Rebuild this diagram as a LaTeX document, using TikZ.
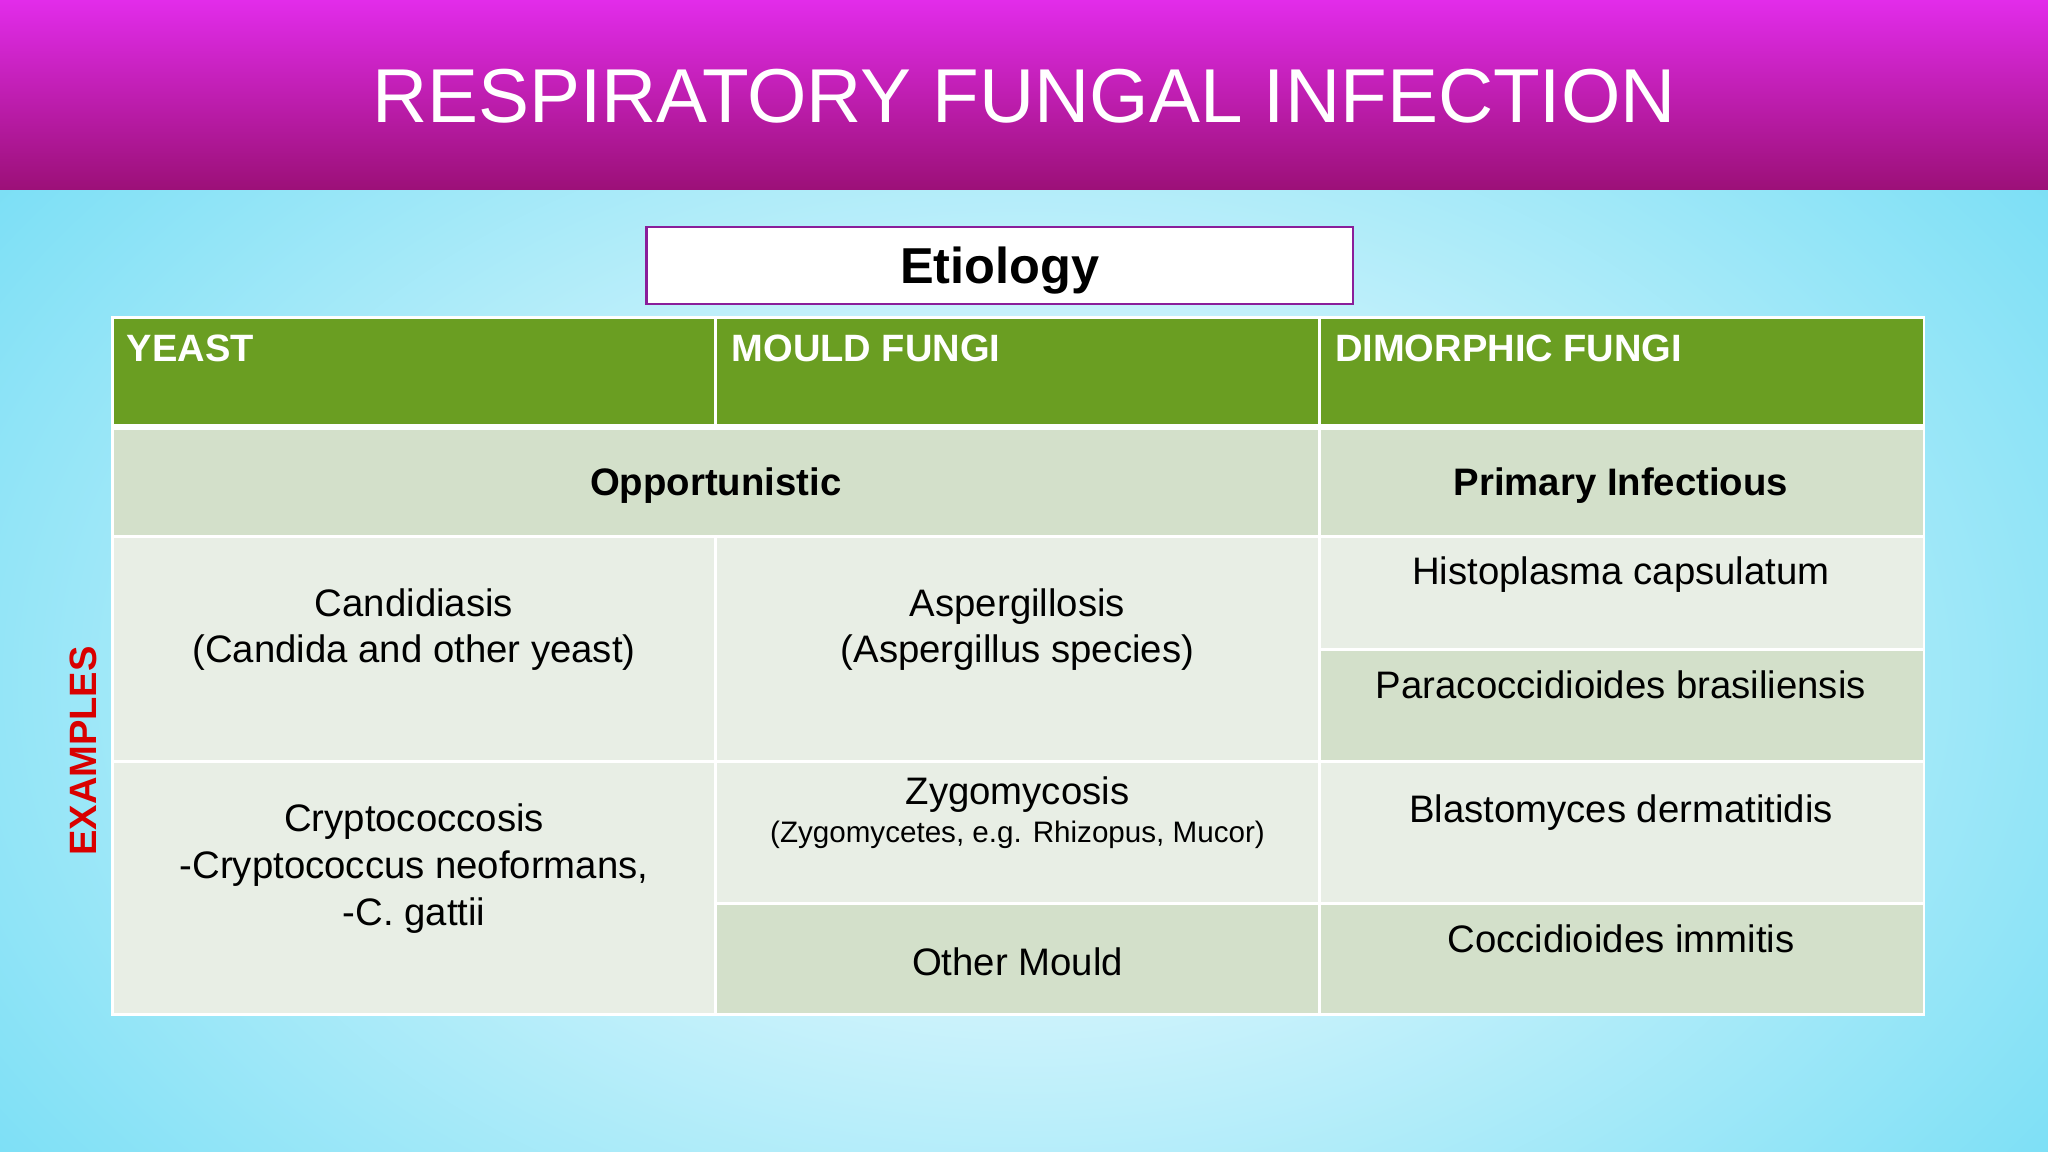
\documentclass[tikz,border=0pt]{standalone}
\usepackage{fontspec}
\setmainfont{Liberation Sans}
\definecolor{hdr}{HTML}{6A9E22}
\definecolor{mid}{HTML}{D3E0CA}
\definecolor{lite}{HTML}{E8EEE5}
\definecolor{bgout}{HTML}{4ED4F2}
\definecolor{ttop}{HTML}{E22CEA}
\definecolor{tbot}{HTML}{9C1078}
\definecolor{ebox}{HTML}{8A1E9A}
\tikzset{cell/.style={draw=white,line width=1.2pt},
 hd/.style={text=white,font=\bfseries\fontsize{16.6}{19}\selectfont,anchor=north west},
 bd/.style={align=center,font=\fontsize{16.7}{20}\selectfont}}
\begin{document}
\begin{tikzpicture}[x=0.02cm,y=-0.02cm]
\useasboundingbox (0,0) rectangle (1568,882);
\fill[bgout] (0,0) rectangle (1568,882);
\begin{scope}
\clip (0,0) rectangle (1568,882);
\shade[inner color=white,outer color=bgout] (784,520) ellipse [x radius=1300, y radius=880];
\end{scope}
\shade[top color=ttop,bottom color=tbot] (0,0) rectangle (1568,145);
\node[text=white,font=\fontsize{33.3}{40}\selectfont] (title) at (784,74) {RESPIRATORY FUNGAL INFECTION};
\node[draw=ebox,line width=1pt,fill=white,minimum width=541*0.02cm,minimum height=59*0.02cm] (eti) at (765.5,203.5) {};
\node[font=\bfseries\fontsize{22}{26}\selectfont] (etit) at (765.5,207) {Etiology};
% header
\fill[hdr] (86,243) rectangle (1473,326);
\draw[cell] (86,243) rectangle (548,326);
\draw[cell] (548,243) rectangle (1010,326);
\draw[cell] (1010,243) rectangle (1473,326);
\node[hd] (h1) at (91,250) {YEAST};
\node[hd] (h2) at (554,250) {MOULD FUNGI};
\node[hd] (h3) at (1016,250) {DIMORPHIC FUNGI};
% row 2
\draw[cell,fill=mid] (86,328) rectangle (1010,411);
\draw[cell,fill=mid] (1010,328) rectangle (1473,411);
\node[font=\bfseries\fontsize{16.7}{20}\selectfont] (op) at (548,372) {Opportunistic};
\node[font=\bfseries\fontsize{16.7}{20}\selectfont] (pi) at (1241,372) {Primary Infectious};
% body
\draw[cell,fill=lite] (86,411) rectangle (548,583);
\draw[cell,fill=lite] (548,411) rectangle (1010,583);
\draw[cell,fill=lite] (1010,411) rectangle (1473,497);
\draw[cell,fill=mid] (1010,497) rectangle (1473,583);
\draw[cell,fill=lite] (86,583) rectangle (548,777);
\draw[cell,fill=lite] (548,583) rectangle (1010,692);
\draw[cell,fill=mid] (548,692) rectangle (1010,777);
\draw[cell,fill=lite] (1010,583) rectangle (1473,692);
\draw[cell,fill=mid] (1010,692) rectangle (1473,777);
\node[bd] (c1) at (317,482) {Candidiasis\\(Candida and other yeast)};
\node[bd] (c2) at (779,482) {Aspergillosis\\(Aspergillus species)};
\node[bd] (c3) at (1241,440) {Histoplasma capsulatum};
\node[bd] (c4) at (1241,524) {Paracoccidioides brasiliensis};
\node[bd,font=\fontsize{16.7}{20.5}\selectfont] (c5) at (317,665) {Cryptococcosis\\-Cryptococcus neoformans,\\-C. gattii};
\node[bd] (c6) at (779,608) {Zygomycosis};
\node[font=\fontsize{12.9}{15}\selectfont] (c6b) at (779,639) {(Zygomycetes, e.g. Rhizopus, Mucor)};
\node[bd] (c7) at (779,736) {Other Mould};
\node[bd] (c8) at (1241,622) {Blastomyces dermatitidis};
\node[bd] (c9) at (1241,719) {Coccidioides immitis};
\node[rotate=90,text=red!85!black,font=\bfseries\fontsize{16.6}{19}\selectfont] (ex) at (64,575) {EXAMPLES};
\end{tikzpicture}
\end{document}
